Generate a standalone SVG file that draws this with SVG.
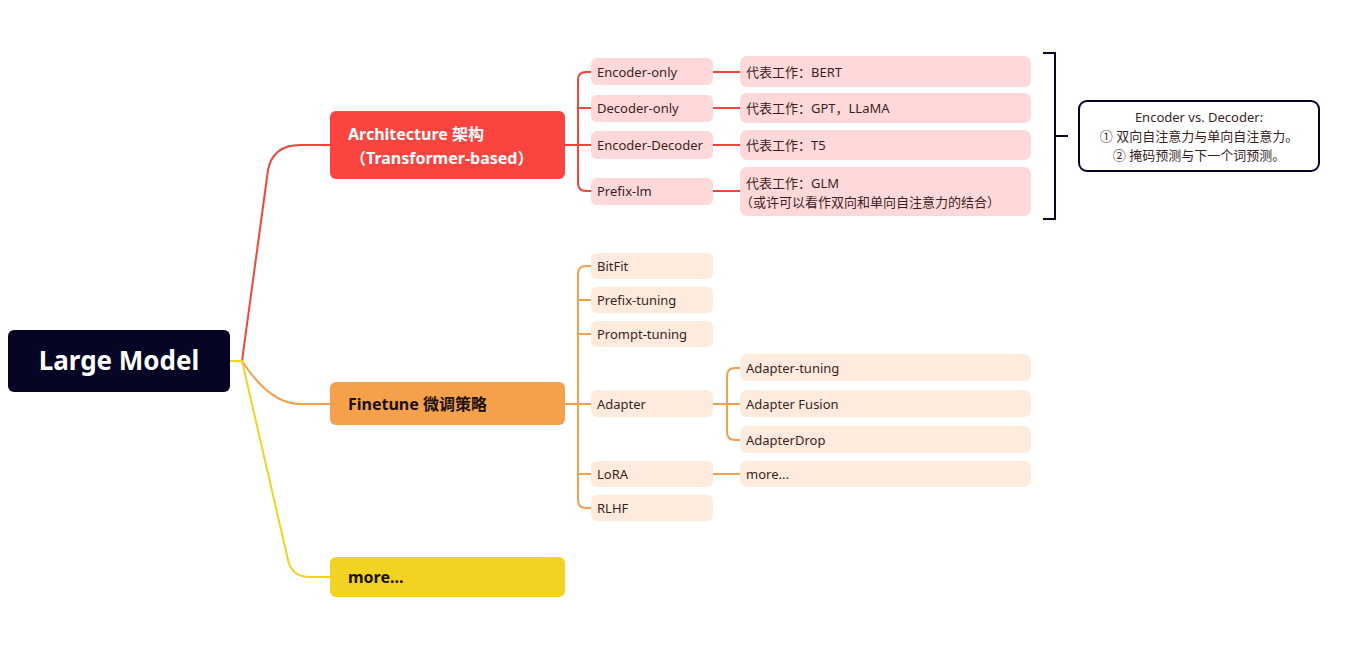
<svg xmlns="http://www.w3.org/2000/svg" width="1369" height="663" viewBox="0 0 1369 663">
<style>
text{font-family:"Noto Sans","Noto Sans CJK SC",sans-serif;}
.t{font-size:13px;fill:#3b1f1f;}
.r{fill:#FFD9D9;}
.o{fill:#FDEBDD;}
.lr{fill:none;stroke:#F5443C;stroke-width:2;}
.lo{fill:none;stroke:#F5A04A;stroke-width:2;}
.ly{fill:none;stroke:#F2D323;stroke-width:2;}
.h{font-size:16px;font-weight:bold;}
</style>
<rect width="1369" height="663" fill="#fff"/>
<g id="connectors">
<path class="lr" d="M230 361 L242 361 L268 170 Q273 145 300 145 L330 145"/>
<path class="lo" d="M230 361 L242 361 Q270 404 300 404 L330 404"/>
<path class="ly" d="M230 361 L242 361 L288 560 Q292 577 310 577 L330 577"/>
<path class="lr" d="M565 145 L578 145 M591 72 L586 72 Q578 72 578 80 L578 183 Q578 191 586 191 L591 191 M578 108 Q578 108 591 108 M578 145 L591 145"/>
<path class="lr" d="M713 72 L740 72 M713 108 L740 108 M713 145 L740 145 M713 191 L740 191"/>
<path class="lo" d="M565 404 L591 404 M591 266 L586 266 Q578 266 578 274 L578 500 Q578 508 586 508 L591 508 M578 300 L591 300 M578 334 L591 334 M578 474 L591 474"/>
<path class="lo" d="M713 404 L740 404 M740 368 L735 368 Q727 368 727 376 L727 432 Q727 440 735 440 L740 440 M713 474 L740 474"/>
<path fill="none" stroke="#060524" stroke-width="2" d="M1043 53 L1055 53 L1055 219 L1043 219 M1055 136 L1068 136"/>
</g>
<g id="root"><rect x="8" y="330" width="222" height="62" rx="6" fill="#060524"/><text x="119" y="370" text-anchor="middle" font-size="26" font-weight="bold" fill="#fff">Large Model</text></g>
<g id="arch"><rect x="330" y="111" width="235" height="68" rx="6" fill="#FB4440"/><text class="h" x="348" y="140" fill="#fff">Architecture 架构</text><text class="h" x="350" y="164" fill="#fff">（Transformer-based）</text></g>
<g id="finetune"><rect x="330" y="382" width="235" height="43" rx="6" fill="#F5A04A"/><text class="h" x="348" y="410" fill="#1a1010">Finetune 微调策略</text></g>
<g id="more1"><rect x="330" y="557" width="235" height="40" rx="6" fill="#F2D323"/><text class="h" x="348" y="583" fill="#1a1010">more...</text></g>
<g id="enc"><rect class="r" x="591" y="58" width="122" height="27" rx="6"/><text class="t" x="597" y="77">Encoder-only</text></g>
<g id="dec"><rect class="r" x="591" y="95" width="122" height="27" rx="6"/><text class="t" x="597" y="113">Decoder-only</text></g>
<g id="encdec"><rect class="r" x="591" y="131" width="122" height="28" rx="6"/><text class="t" x="597" y="150">Encoder-Decoder</text></g>
<g id="prefixlm"><rect class="r" x="591" y="178" width="122" height="27" rx="6"/><text class="t" x="597" y="196">Prefix-lm</text></g>
<g id="bert"><rect class="r" x="740" y="56" width="291" height="31" rx="7"/><text class="t" x="746" y="77">代表工作：BERT</text></g>
<g id="gpt"><rect class="r" x="740" y="93" width="291" height="30" rx="7"/><text class="t" x="746" y="113">代表工作：GPT，LLaMA</text></g>
<g id="t5"><rect class="r" x="740" y="130" width="291" height="30" rx="7"/><text class="t" x="746" y="150">代表工作：T5</text></g>
<g id="glm"><rect class="r" x="740" y="167" width="291" height="49" rx="7"/><text class="t" x="746" y="188">代表工作：GLM</text><text class="t" x="740" y="207">（或许可以看作双向和单向自注意力的结合）</text></g>
<g id="note"><rect x="1079" y="101" width="240" height="70" rx="8" fill="#fff" stroke="#060524" stroke-width="2"/><text class="t" x="1199" y="122" text-anchor="middle" fill="#060524">Encoder vs. Decoder:</text><text class="t" x="1199" y="141" text-anchor="middle" fill="#060524">① 双向自注意力与单向自注意力。</text><text class="t" x="1199" y="160" text-anchor="middle" fill="#060524">② 掩码预测与下一个词预测。</text></g>
<g id="bitfit"><rect class="o" x="591" y="253" width="122" height="26" rx="6"/><text class="t" x="597" y="271">BitFit</text></g>
<g id="prefixt"><rect class="o" x="591" y="287" width="122" height="26" rx="6"/><text class="t" x="597" y="305">Prefix-tuning</text></g>
<g id="promptt"><rect class="o" x="591" y="321" width="122" height="26" rx="6"/><text class="t" x="597" y="339">Prompt-tuning</text></g>
<g id="adapter"><rect class="o" x="591" y="390" width="122" height="27" rx="6"/><text class="t" x="597" y="409">Adapter</text></g>
<g id="lora"><rect class="o" x="591" y="461" width="122" height="26" rx="6"/><text class="t" x="597" y="479">LoRA</text></g>
<g id="rlhf"><rect class="o" x="591" y="495" width="122" height="26" rx="6"/><text class="t" x="597" y="513">RLHF</text></g>
<g id="adt"><rect class="o" x="740" y="354" width="291" height="27" rx="7"/><text class="t" x="746" y="373">Adapter-tuning</text></g>
<g id="adf"><rect class="o" x="740" y="390" width="291" height="27" rx="7"/><text class="t" x="746" y="409">Adapter Fusion</text></g>
<g id="add"><rect class="o" x="740" y="426" width="291" height="27" rx="7"/><text class="t" x="746" y="445">AdapterDrop</text></g>
<g id="more2"><rect class="o" x="740" y="461" width="291" height="26" rx="7"/><text class="t" x="746" y="479">more...</text></g>
</svg>
